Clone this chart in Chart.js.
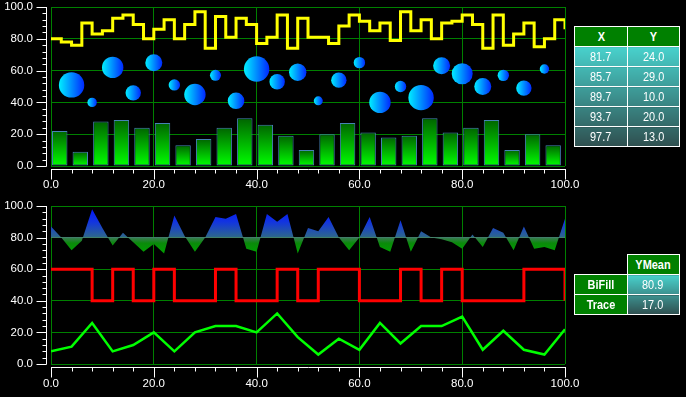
<!DOCTYPE html>
<html lang="en">
<head>
<meta charset="UTF-8" />
<title>Bars, bubbles, steps and bi-fill</title>
<script src="https://cdn.jsdelivr.net/npm/chart.js"></script>
<style>
  body {
    margin: 0;
    background: #000;
    width: 686px;
    height: 397px;
    overflow: hidden;
    position: relative;
    font-family: 'Liberation Sans Narrow', 'Liberation Sans', sans-serif;
  }
  canvas { position: absolute; left: 0; }
  #topChart { top: 0; }
  #botChart { top: 198px; }
  table {
    position: absolute;
    border-collapse: collapse;
    color: #fff;
    font-size: 13px;
  }
  td, th {
    border: 1px solid #fff;
    height: 19px;
    padding: 0;
    text-align: center;
    font-weight: normal;
  }
  td span, th span { display: inline-block; transform: scaleX(0.84); }
  th, td.lbl { background: #008000; font-weight: bold; }
  td.empty { border: none; background: transparent; }
</style>
</head>
<body>
<canvas id="topChart" width="686" height="196"></canvas>
<canvas id="botChart" width="686" height="196"></canvas>

<table id="xyTable" style="left:574px; top:26px;"></table>
<table id="meanTable" style="left:574px; top:254px;"></table>

<script>
  // top chart: bars
  const barX = [1.7, 5.7, 9.7, 13.7, 17.7, 21.7, 25.7, 29.7, 33.7, 37.7, 41.7, 45.7, 49.7,
                53.7, 57.7, 61.7, 65.7, 69.7, 73.7, 77.7, 81.7, 85.7, 89.7, 93.7, 97.7];
  const barY = [22, 9, 28, 29, 24, 27, 13, 17, 24, 30, 26, 19, 10,
                20, 27, 21, 18, 19, 30, 21, 24, 29, 10, 20, 13];

  // top chart: bubbles (radius in px)
  const bubbleX = [4, 8, 12, 16, 20, 24, 28, 32, 36, 40, 44, 48,
                   52, 56, 60, 64, 68, 72, 76, 80, 84, 88, 92, 96];
  const bubbleY = [51, 40, 62, 46, 65, 51, 45, 57, 41, 61, 53, 59,
                   41, 54, 65, 40, 50, 43, 63, 58, 50, 57, 49, 61];
  const bubbleR = [12.7, 4.7, 10.7, 7.7, 8.5, 5.7, 10.7, 5.5, 8.3, 12.7, 7.7, 8.7,
                   4.5, 7.7, 5.7, 10.7, 5.7, 12.7, 8.5, 10.5, 8.5, 5.7, 7.7, 4.7];

  // top chart: yellow step line, bottom chart: bi-fill (same x)
  const stepX = [0, 2, 4, 6, 8, 10, 12, 14, 16, 18, 20, 22, 24, 26, 28, 30, 32, 34, 36, 38,
                 40, 42, 44, 46, 48, 50, 52, 54, 56, 58, 60, 62, 64, 66, 68, 70, 72, 74, 76, 78,
                 80, 82, 84, 86, 88, 90, 92, 94, 96, 98, 100];
  const stepY = [80, 78, 76, 90, 83, 85, 93, 95, 89, 80, 86, 92, 80, 89, 97, 74, 94, 81, 93, 89,
                 77, 81, 95, 74, 93, 81, 81, 77, 88, 95, 91, 85, 90, 79, 97, 85, 92, 80, 90, 91,
                 95, 89, 74, 95, 76, 83, 90, 75, 80, 92, 86];
  const bifillY = [87, 80, 72, 78, 98, 86, 75, 83, 77, 71, 76, 70, 94, 81, 71, 80, 93, 92, 95, 73,
                   71, 95, 90, 95, 70, 86, 84, 93, 80, 72, 80, 93, 74, 71, 91, 71, 84, 80, 79, 77,
                   73, 82, 74, 86, 83, 72, 87, 73, 74, 72, 92];

  // bottom chart: red step + green trace
  const traceX = [0, 4, 8, 12, 16, 20, 24, 28, 32, 36, 40, 44, 48,
                  52, 56, 60, 64, 68, 72, 76, 80, 84, 88, 92, 96, 100];
  const redY = [60, 60, 40, 60, 40, 60, 40, 40, 60, 40, 40, 60, 40,
                60, 60, 40, 40, 60, 40, 60, 40, 40, 40, 60, 60, 40];
  const traceY = [8, 11, 26, 8, 12, 20, 8, 20, 24, 24, 20, 32, 17,
                  6, 16, 9, 26, 13, 24, 24, 30, 9, 21, 9, 6, 22];

  // tables
  const tableCols = ['X', 'Y'];
  const meanRows = ['BiFill', 'Trace'];
  const meanValues = [80.9, 17.0];

  const pts = (xs, ys) => xs.map((x, i) => ({ x: x, y: ys[i] }));
  const tickFont = { family: "'Liberation Sans Narrow', 'Liberation Sans', sans-serif", size: 11.5 };

  Chart.defaults.animation = false;
  Chart.defaults.events = [];

  function scalesFor(labelPad, gridColor) {
    return {
      x: {
        type: 'linear', min: 0, max: 100, offset: false,
        ticks: { stepSize: 20, color: '#fff', font: tickFont, padding: labelPad,
                 maxRotation: 0, autoSkip: false, callback: v => v.toFixed(1) },
        grid: { color: '#008000', drawTicks: false, offset: false },
        border: { display: false },
        afterFit: s => { s.height = 30; }
      },
      y: {
        type: 'linear', min: 0, max: 100,
        // tick marks are invisible; their length only pushes the labels left
        ticks: { stepSize: 20, color: '#fff', font: tickFont, padding: 0,
                 callback: v => v.toFixed(1) },
        grid: { color: gridColor || '#008000', drawTicks: true, tickLength: 18, tickColor: 'rgba(0,0,0,0)' },
        border: { display: false },
        afterFit: s => { s.width = 51; }
      }
    };
  }

  // white axis lines sitting a few px outside the plot, with minor ticks
  const whiteAxes = {
    id: 'whiteAxes',
    afterDraw(chart) {
      const { ctx, chartArea: a, scales: { x, y } } = chart;
      const ax = a.left - 4.5, ay = a.bottom + 3.5;
      ctx.save();
      ctx.strokeStyle = '#fff';
      ctx.lineWidth = 1;
      ctx.beginPath();
      ctx.moveTo(ax, a.top); ctx.lineTo(ax, a.bottom + 0.5);
      ctx.moveTo(a.left, ay); ctx.lineTo(a.right + 1, ay);
      for (let v = 0; v <= 100; v += 4) {
        const len = v % 20 === 0 ? 10 : 4;
        const py = Math.round(y.getPixelForValue(v)) + 0.5;
        ctx.moveTo(ax - len, py); ctx.lineTo(ax, py);
        const px = Math.round(x.getPixelForValue(v)) + 0.5;
        ctx.moveTo(px, ay); ctx.lineTo(px, ay + len);
      }
      ctx.stroke();
      ctx.restore();
    }
  };

  // ---- top chart
  new Chart(document.getElementById('topChart'), {
    type: 'bar',
    data: {
      datasets: [
        {
          type: 'line',
          data: pts(stepX, stepY),
          borderColor: '#ffff00',
          borderWidth: 3,
          stepped: 'before',
          pointRadius: 0,
          fill: false
        },
        {
          type: 'bubble',
          data: bubbleX.map((x, i) => ({ x: x, y: bubbleY[i], r: bubbleR[i] })),
          borderWidth: 0,
          backgroundColor(c) {
            if (!c.raw || c.raw.r === undefined) return '#0090ff';
            const px = c.chart.scales.x.getPixelForValue(c.raw.x);
            if (!isFinite(px)) return '#0090ff';
            const g = c.chart.ctx.createLinearGradient(px - c.raw.r, 0, px + c.raw.r, 0);
            g.addColorStop(0, '#00f0ff');
            g.addColorStop(1, '#0028ff');
            return g;
          }
        },
        {
          type: 'bar',
          data: pts(barX, barY),
          barPercentage: 0.75,
          categoryPercentage: 1,
          borderColor: '#4682b4',
          borderWidth: 1,
          borderSkipped: false,
          backgroundColor(c) {
            if (!c.raw || c.raw.y === undefined) return '#00c000';
            const ys = c.chart.scales.y;
            const top = ys.getPixelForValue(c.raw.y), base = ys.getPixelForValue(0);
            if (!isFinite(top) || !isFinite(base)) return '#00c000';
            const g = c.chart.ctx.createLinearGradient(0, top, 0, base);
            g.addColorStop(0, '#006400');
            g.addColorStop(1, '#00ff00');
            return g;
          }
        }
      ]
    },
    options: {
      responsive: false,
      layout: { autoPadding: false, padding: { top: 7, right: 121, left: 0, bottom: 0 } },
      plugins: { legend: { display: false }, tooltip: { enabled: false } },
      scales: scalesFor(12)
    },
    plugins: [whiteAxes]
  });

  // ---- bottom chart
  const botChart = new Chart(document.getElementById('botChart'), {
    type: 'line',
    data: {
      datasets: [
        {
          data: pts(stepX, bifillY),
          borderColor: 'rgba(0,0,0,0)',
          borderWidth: 1,
          pointRadius: 0,
          fill: { target: { value: 80 }, above: '#1030e0', below: '#108010' }
        },
        {
          data: pts(traceX, redY),
          borderColor: '#ff0000',
          borderWidth: 3,
          stepped: 'before',
          pointRadius: 0,
          fill: false
        },
        {
          data: pts(traceX, traceY),
          borderColor: '#00ff00',
          borderWidth: 2.5,
          pointRadius: 0,
          fill: false
        }
      ]
    },
    options: {
      responsive: false,
      layout: { autoPadding: false, padding: { top: 8, right: 121, left: 0, bottom: 0 } },
      plugins: { legend: { display: false }, tooltip: { enabled: false } },
      scales: scalesFor(13, c => (c.tick && c.tick.value === 80 ? '#4a8a68' : '#008000'))
    },
    plugins: [whiteAxes]
  });

  // bi-fill gradients need the laid out y scale
  const yb = botChart.scales.y;
  const up = botChart.ctx.createLinearGradient(0, yb.getPixelForValue(100), 0, yb.getPixelForValue(80));
  up.addColorStop(0, '#0010ff');
  up.addColorStop(0.5, '#1234e0');
  up.addColorStop(1, '#2e6888');
  const down = botChart.ctx.createLinearGradient(0, yb.getPixelForValue(80), 0, yb.getPixelForValue(70));
  down.addColorStop(0, '#3a7a55');
  down.addColorStop(0.35, '#0a8a0a');
  down.addColorStop(1, '#00a000');
  botChart.data.datasets[0].fill = { target: { value: 80 }, above: up, below: down };
  botChart.update();

  // ---- tables
  function shade(t) {
    const a = [72, 209, 204], b = [47, 79, 79];
    return 'rgb(' + a.map((v, i) => Math.round(v + (b[i] - v) * t)).join(',') + ')';
  }
  function cellBg(i, n) {
    return 'linear-gradient(to bottom,' + shade(i / n) + ',' + shade((i + 1) / n) + ')';
  }
  const txt = s => '<span>' + s + '</span>';

  const xy = document.getElementById('xyTable');
  const tx = barX.slice(-5), ty = barY.slice(-5);
  let html = '<tr><th style="width:52px">' + txt(tableCols[0]) + '</th><th style="width:51px">' + txt(tableCols[1]) + '</th></tr>';
  tx.forEach((x, i) => {
    const bg = 'background:' + cellBg(i, tx.length);
    html += '<tr><td style="' + bg + '">' + txt(x.toFixed(1)) + '</td><td style="' + bg + '">' + txt(ty[i].toFixed(1)) + '</td></tr>';
  });
  xy.innerHTML = html;

  const mt = document.getElementById('meanTable');
  let mh = '<tr><td class="empty" style="width:52px"></td><th style="width:51px">' + txt('YMean') + '</th></tr>';
  meanRows.forEach((name, i) => {
    mh += '<tr><td class="lbl">' + txt(name) + '</td><td style="background:' + cellBg(i, meanRows.length) + '">' +
          txt(meanValues[i].toFixed(1)) + '</td></tr>';
  });
  mt.innerHTML = mh;
</script>
</body>
</html>
